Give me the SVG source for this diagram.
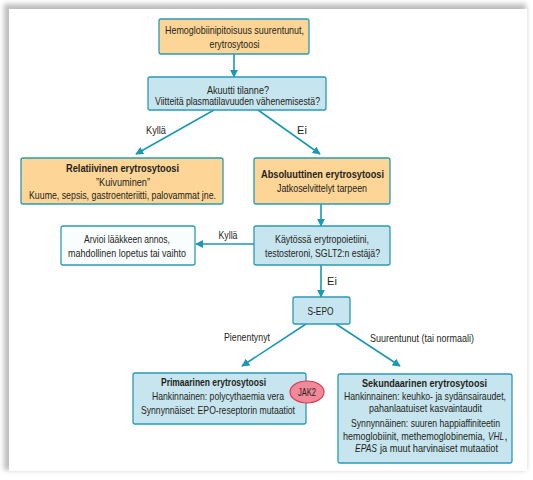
<svg xmlns="http://www.w3.org/2000/svg" width="533" height="480" viewBox="0 0 533 480">
<defs>
<filter id="sh" x="-5%" y="-5%" width="110%" height="110%"><feGaussianBlur stdDeviation="2.5"/></filter>
<marker id="ah" viewBox="0 0 10 10" refX="9" refY="5" markerWidth="8" markerHeight="8" markerUnits="userSpaceOnUse" orient="auto"><path d="M0,0 L10,5 L0,10 z" fill="#1b98b2"/></marker>
<style>
text{font-family:"Liberation Sans",Arial,sans-serif;font-size:11px;fill:#231f20;text-anchor:middle}
.b{font-weight:bold}
.s{text-anchor:start}
.i{font-style:italic}
.box{stroke:#2a9bb5;stroke-width:1.3}
.or{fill:#fdd596}
.bl{fill:#c7e5ee}
.wh{fill:#fafdfe}
.c line{stroke:#1b98b2;stroke-width:1.6;marker-end:url(#ah)}
</style>
</defs>
<rect x="0" y="0" width="533" height="480" fill="#ffffff"/>
<rect x="4" y="4" width="522" height="466" fill="#bdbdbd" filter="url(#sh)"/>
<rect x="9" y="9" width="518" height="462" fill="#ffffff"/>
<g class="c" id="connectors">
<line x1="234" y1="54" x2="234" y2="77"/>
<line x1="214" y1="110" x2="136" y2="154"/>
<line x1="258" y1="110" x2="320" y2="154"/>
<line x1="321" y1="204" x2="321" y2="226"/>
<line x1="254" y1="244" x2="196" y2="244"/>
<line x1="321" y1="265" x2="321" y2="297"/>
<line x1="306" y1="324" x2="242" y2="366"/>
<line x1="336" y1="324" x2="400" y2="366"/>
</g>
<g id="labels">
<text x="156" y="134" textLength="20" lengthAdjust="spacingAndGlyphs">Kyllä</text>
<text x="302" y="134">Ei</text>
<text x="228" y="239" textLength="19" lengthAdjust="spacingAndGlyphs">Kyllä</text>
<text x="332" y="285">Ei</text>
<text x="247" y="341" textLength="46" lengthAdjust="spacingAndGlyphs">Pienentynyt</text>
<text class="s" x="370" y="342" textLength="104" lengthAdjust="spacingAndGlyphs">Suurentunut (tai normaali)</text>
</g>
<g id="n1">
<rect class="box or" x="159" y="19" width="150" height="35" rx="2"/>
<text x="234.5" y="34" textLength="139" lengthAdjust="spacingAndGlyphs">Hemoglobiinipitoisuus suurentunut,</text>
<text x="234.5" y="48" textLength="50" lengthAdjust="spacingAndGlyphs">erytrosytoosi</text>
</g>
<g id="n2">
<rect class="box bl" x="148" y="77" width="178" height="33" rx="2"/>
<text x="238" y="93.5" textLength="62" lengthAdjust="spacingAndGlyphs">Akuutti tilanne?</text>
<text x="237.5" y="105" textLength="165" lengthAdjust="spacingAndGlyphs">Viitteitä plasmatilavuuden vähenemisestä?</text>
</g>
<g id="n3">
<rect class="box or" x="21" y="158" width="202" height="46" rx="2"/>
<text class="b" x="122.5" y="172" textLength="113" lengthAdjust="spacingAndGlyphs">Relatiivinen erytrosytoosi</text>
<text x="123" y="186" textLength="54" lengthAdjust="spacingAndGlyphs">”Kuivuminen”</text>
<text x="122.5" y="199" textLength="187" lengthAdjust="spacingAndGlyphs">Kuume, sepsis, gastroenteriitti, palovammat jne.</text>
</g>
<g id="n4">
<rect class="box or" x="254" y="158" width="136" height="46" rx="2"/>
<text class="b" x="322.5" y="178" textLength="123" lengthAdjust="spacingAndGlyphs">Absoluuttinen erytrosytoosi</text>
<text x="322" y="192" textLength="90" lengthAdjust="spacingAndGlyphs">Jatkoselvittelyt tarpeen</text>
</g>
<g id="n5">
<rect class="box bl" x="254" y="226" width="136" height="39" rx="2"/>
<text x="322" y="243" textLength="94" lengthAdjust="spacingAndGlyphs">Käytössä erytropoietiini,</text>
<text x="322.5" y="257" textLength="115" lengthAdjust="spacingAndGlyphs">testosteroni, SGLT2:n estäjä?</text>
</g>
<g id="n6">
<rect class="box wh" x="61" y="226" width="134" height="39" rx="2"/>
<text x="127" y="243" textLength="86" lengthAdjust="spacingAndGlyphs">Arvioi lääkkeen annos,</text>
<text x="127" y="257" textLength="118" lengthAdjust="spacingAndGlyphs">mahdollinen lopetus tai vaihto</text>
</g>
<g id="n7">
<rect class="box bl" x="293" y="297" width="57" height="27" rx="2"/>
<text x="320.5" y="315" textLength="26" lengthAdjust="spacingAndGlyphs">S-EPO</text>
</g>
<g id="n8">
<rect class="box bl" x="133" y="373" width="173" height="51" rx="2"/>
<text class="b" x="213.5" y="386" textLength="105" lengthAdjust="spacingAndGlyphs">Primaarinen erytrosytoosi</text>
<text x="218" y="400" textLength="132" lengthAdjust="spacingAndGlyphs">Hankinnainen: polycythaemia vera</text>
<text x="218" y="414" textLength="154" lengthAdjust="spacingAndGlyphs">Synnynnäiset: EPO-reseptorin mutaatiot</text>
</g>
<g id="jak2">
<ellipse cx="307" cy="392" rx="17" ry="11" fill="#f2899a" stroke="#d83a52" stroke-width="1.2"/>
<text x="307" y="396" textLength="18" lengthAdjust="spacingAndGlyphs">JAK2</text>
</g>
<g id="n9">
<rect class="box bl" x="338" y="374" width="174" height="89" rx="2"/>
<text class="b" x="424.5" y="387" textLength="125" lengthAdjust="spacingAndGlyphs">Sekundaarinen erytrosytoosi</text>
<text x="425" y="399.5" textLength="162" lengthAdjust="spacingAndGlyphs">Hankinnainen: keuhko- ja sydänsairaudet,</text>
<text x="425.5" y="411.5" textLength="113" lengthAdjust="spacingAndGlyphs">pahanlaatuiset kasvaintaudit</text>
<text x="425.5" y="427" textLength="149" lengthAdjust="spacingAndGlyphs">Synnynnäinen: suuren happiaffiniteetin</text>
<text class="s" x="343" y="439.5" textLength="142" lengthAdjust="spacingAndGlyphs">hemoglobiinit, methemoglobinemia,</text>
<text class="s i" x="488" y="439.5" textLength="16" lengthAdjust="spacingAndGlyphs">VHL</text>
<text class="s" x="504.5" y="439.5">,</text>
<text class="s i" x="355" y="452" textLength="22" lengthAdjust="spacingAndGlyphs">EPAS</text>
<text class="s" x="380" y="452" textLength="118" lengthAdjust="spacingAndGlyphs">ja muut harvinaiset mutaatiot</text>
</g>
</svg>
